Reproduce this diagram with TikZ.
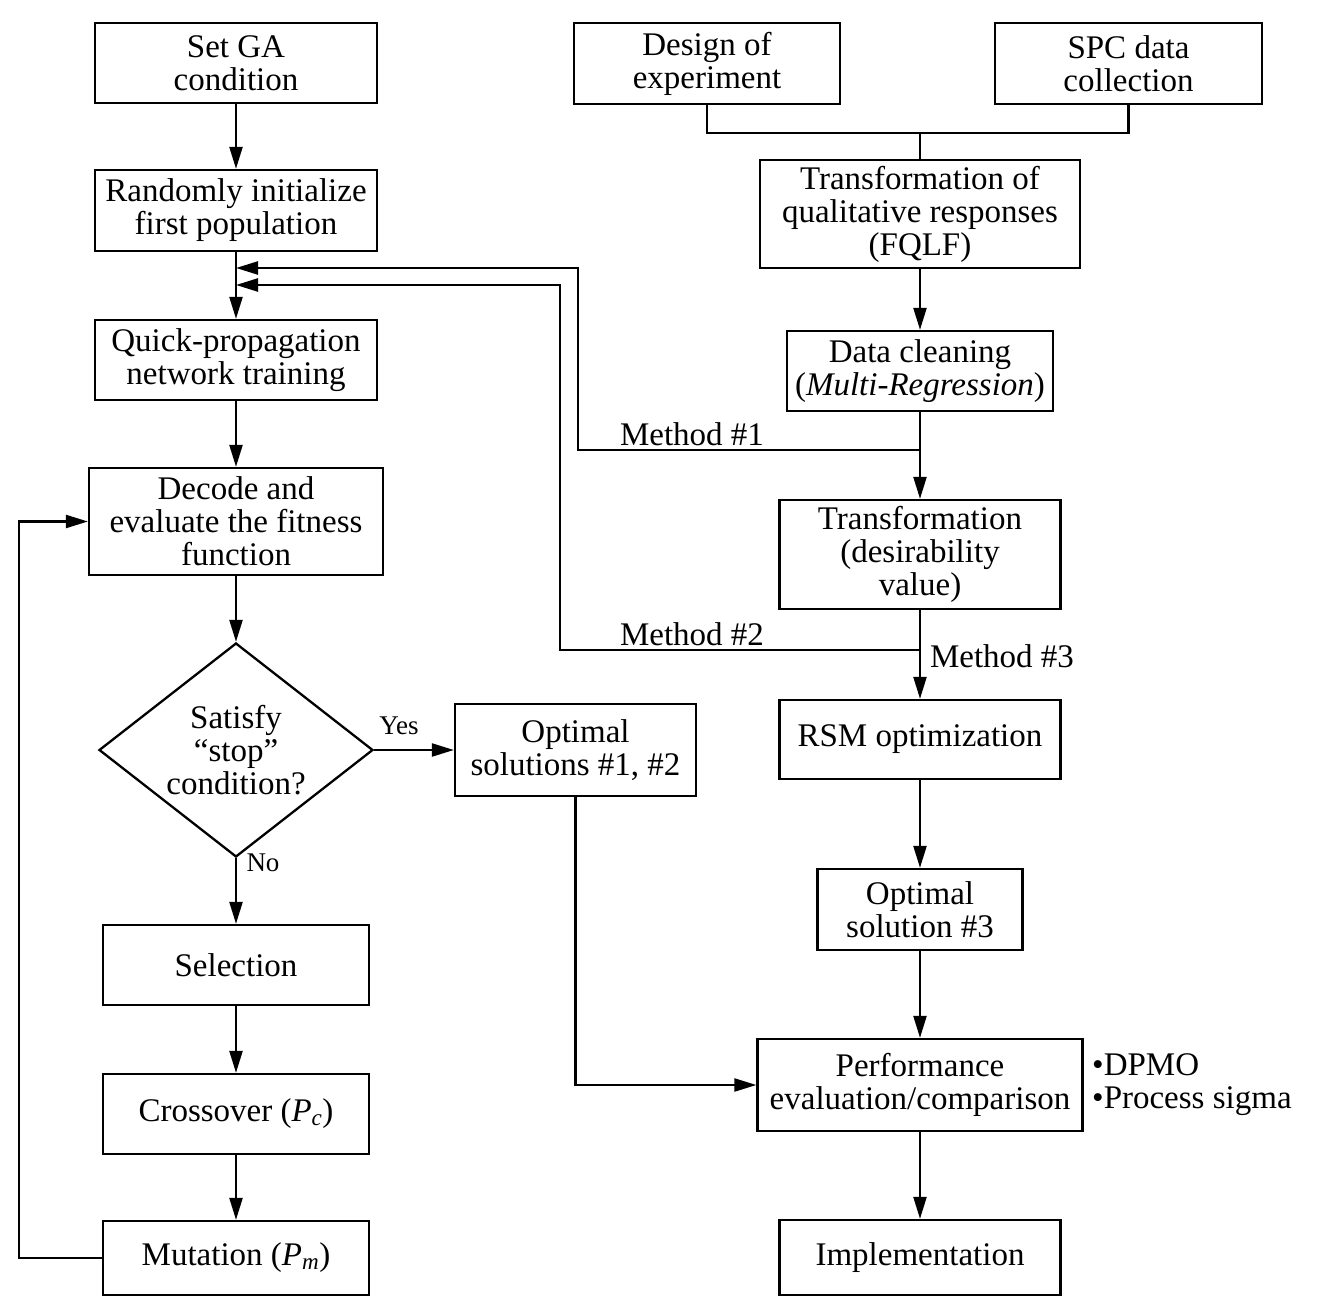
\documentclass[tikz,border=0pt]{standalone}
\usepackage{fontspec}
\setmainfont{Liberation Serif}
\usetikzlibrary{arrows.meta,shapes.geometric}
\begin{document}
\begin{tikzpicture}[x=1pt,y=-1pt,
  every node/.style={font=\fontsize{33}{33}\selectfont},
  box/.style={draw,line width=2.3pt,align=center,inner sep=0pt},
  arr/.style={line width=2.3pt,-{Triangle[length=22pt,width=13pt]}},
  ln/.style={line width=2.3pt},
  small/.style={font=\fontsize{27}{27}\selectfont,inner sep=0pt},
  lbl/.style={inner sep=0pt}]
\useasboundingbox (0,0) rectangle (1318,1305);
% left column
\node[box,minimum width=282pt,minimum height=80pt] (set) at (236,63) {Set GA\\condition};
\node[box,minimum width=282pt,minimum height=81pt] (rand) at (236,210.5) {Randomly initialize\\first population};
\node[box,minimum width=282pt,minimum height=80pt] (quick) at (236,360) {Quick-propagation\\network training};
\node[box,minimum width=294pt,minimum height=107pt] (decode) at (236,521.5) {Decode and\\evaluate the fitness\\function};
\node[draw,line width=2.3pt,shape=diamond,aspect=1.28,minimum width=274pt,minimum height=214pt,inner sep=0pt,align=center] (dec) at (236,750) {Satisfy\\``stop''\\condition?};
\node[box,minimum width=266pt,minimum height=80pt] (sel) at (236,965) {Selection};
\node[box,minimum width=266pt,minimum height=80pt] (cross) at (236,1114) {Crossover (\textit{P}\textsubscript{\textit{c}})};
\node[box,minimum width=266pt,minimum height=74pt] (mut) at (236,1258) {Mutation (\textit{P}\textsubscript{\textit{m}})};
\node[box,minimum width=241pt,minimum height=92pt] (opt12) at (575.5,750) {Optimal\\solutions \#1, \#2};
% right column
\node[box,minimum width=266pt,minimum height=81pt] (doe) at (707,63.5) {Design of\\experiment};
\node[box,minimum width=267pt,minimum height=81pt] (spc) at (1128.5,63.5) {SPC data\\collection};
\node[box,minimum width=320pt,minimum height=108pt] (fqlf) at (920,214) {Transformation of\\qualitative responses\\(FQLF)};
\node[box,minimum width=266pt,minimum height=80pt] (clean) at (920,371) {Data cleaning\\(\textit{Multi-Regression})};
\node[box,minimum width=281pt,minimum height=109pt] (trans) at (920,554.5) {Transformation\\(desirability\\value)};
\node[box,minimum width=281pt,minimum height=79pt] (rsm) at (920,739.5) {RSM optimization};
\node[box,minimum width=205pt,minimum height=81pt] (opt3) at (920,909.5) {Optimal\\solution \#3};
\node[box,minimum width=325pt,minimum height=92pt] (perf) at (920,1085) {Performance\\evaluation/comparison};
\node[box,minimum width=281pt,minimum height=75pt] (impl) at (920,1257.5) {Implementation};
\node[lbl,anchor=west,align=left] (kpi) at (1092,1085) {•DPMO\\•Process sigma};
% labels
\node[small] (yes) at (399,726) {Yes};
\node[small] (no) at (263,863) {No};
\node[lbl] (lm1) at (692,434) {Method \#1};
\node[lbl] (lm2) at (692,634) {Method \#2};
\node[lbl] (lm3) at (1002,656) {Method \#3};
% coordinates
\coordinate (j) at (920,133);
\coordinate (m1) at (920,450);
\coordinate (m2) at (920,650);
\coordinate (in1) at (236,268);
\coordinate (in2) at (236,285);
% connectors left
\draw[arr] (set) -- (rand);
\draw[arr] (rand) -- (quick);
\draw[arr] (quick) -- (decode);
\draw[arr] (decode) -- (dec);
\draw[arr] (dec) -- (sel);
\draw[arr] (sel) -- (cross);
\draw[arr] (cross) -- (mut);
\draw[arr] (mut.west) -- ++(-83,0) |- (decode.west);
\draw[arr] (dec.east) -- (opt12.west);
\draw[arr] (opt12.south) |- (perf.west);
% connectors right
\draw[ln] (doe.south) |- (j) -| (spc.south);
\draw[ln] (j) -- (fqlf.north);
\draw[arr] (fqlf) -- (clean);
\draw[arr] (clean) -- (trans);
\draw[arr] (trans) -- (rsm);
\draw[arr] (rsm) -- (opt3);
\draw[arr] (opt3) -- (perf);
\draw[arr] (perf) -- (impl);
\draw[arr] (m1) -| (578,268) -- (in1);
\draw[arr] (m2) -| (560,285) -- (in2);
\end{tikzpicture}
\end{document}
